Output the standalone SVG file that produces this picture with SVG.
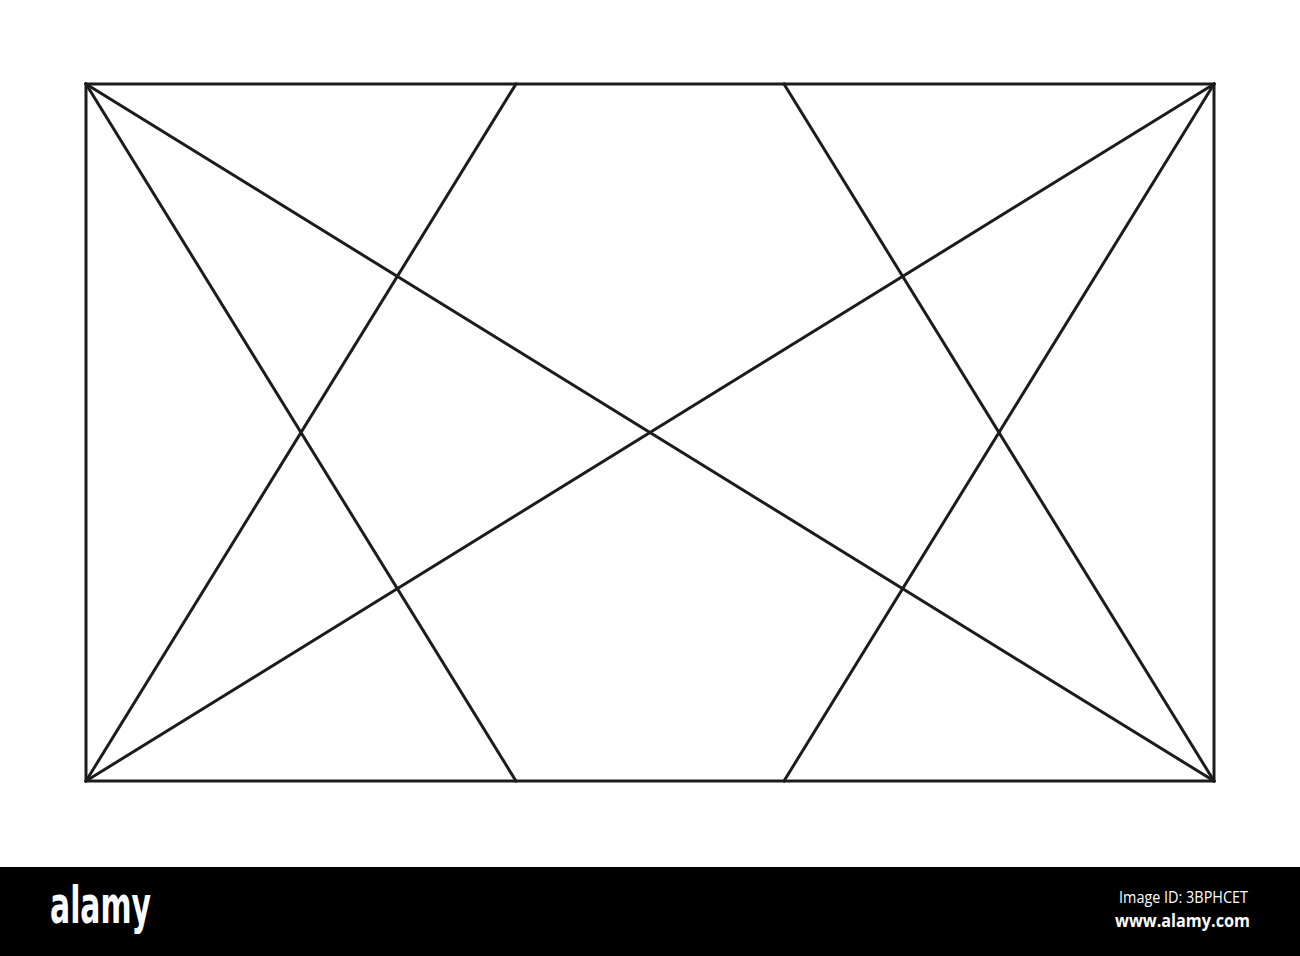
<svg xmlns="http://www.w3.org/2000/svg" width="1300" height="956" viewBox="0 0 1300 956">
<style>
.ln{stroke:#1c1c1c;stroke-width:3;fill:none;stroke-linecap:square}
.logo{font-family:"Liberation Sans Narrow","DejaVu Sans Condensed","Liberation Sans",sans-serif;font-weight:bold;fill:#fff}
.id{font-family:"Open Sans","Noto Sans",sans-serif;fill:#fff}
</style>
<rect width="1300" height="956" fill="#fff"/>
<g id="frame">
<rect class="ln" x="86" y="84" width="1128" height="697"/>
</g>
<g id="connectors">
<line class="ln" x1="86" y1="84" x2="1214" y2="781"/>
<line class="ln" x1="86" y1="781" x2="1214" y2="84"/>
<line class="ln" x1="86" y1="84" x2="516" y2="781"/>
<line class="ln" x1="86" y1="781" x2="516" y2="84"/>
<line class="ln" x1="1214" y1="84" x2="784" y2="781"/>
<line class="ln" x1="1214" y1="781" x2="784" y2="84"/>
</g>
<g id="banner">
<rect x="0" y="867" width="1300" height="89" fill="#000"/>
<text class="logo" x="50" y="923" font-size="52" textLength="101" lengthAdjust="spacingAndGlyphs">alamy</text>
<text class="id" x="1119" y="903" font-size="16" textLength="129" lengthAdjust="spacingAndGlyphs">Image ID: 3BPHCET</text>
<text class="id" x="1115" y="927" font-size="18" font-weight="bold" textLength="135" lengthAdjust="spacingAndGlyphs">www.alamy.com</text>
</g>
</svg>
